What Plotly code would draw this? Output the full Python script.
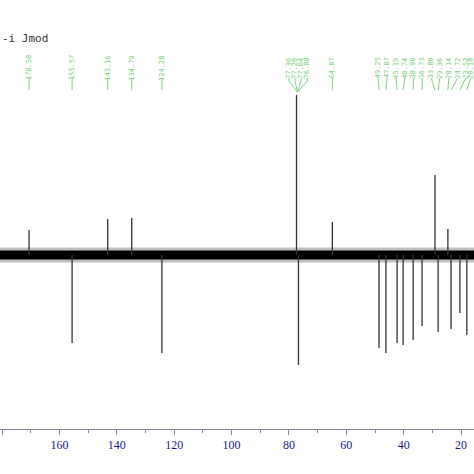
import plotly.graph_objects as go

# peaks: ppm and intensity (pixel units above baseline)
peak_ppm = [170.58, 155.57, 143.16, 134.79, 124.28, 77.36, 76.68, 64.87,
            48.6, 46.2, 42.3, 40.2, 36.7, 33.6, 29.1, 28.0, 24.6, 23.5, 20.4, 18.0]
peak_int = [25, -88, 36, 37, -98, 160, -110, 33,
            -93, -98, -88, -90, -85, -71, 80, -77, 26, -74, -58, -80]
label_text = ["170.58", "155.57", "143.16", "134.79", "124.28",
              "77.36", "77.20", "77.04", "76.88", "64.87"]
label_ppm = [170.58, 155.57, 143.16, 134.79, 124.28, 77.36, 77.20, 77.04, 76.88, 64.87]
label_x_ppm = [170.58, 155.57, 143.16, 134.79, 124.28, 80.0, 77.9, 75.8, 73.6, 64.87]
right_labels = ["49.25", "47.07", "43.19", "40.74", "38.96", "36.73",
                "33.80", "29.36", "28.14", "24.72", "23.52", "20.18"]
right_label_x = [48.9, 45.8, 42.7, 39.6, 36.6, 33.5, 30.4, 27.4, 24.3, 21.2, 18.4, 16.6]
right_peak_x = [48.6, 46.2, 42.3, 40.2, 36.7, 33.6, 29.1, 28.0, 24.6, 23.5, 20.4, 18.0]
xtick_vals = [180, 160, 140, 120, 100, 80, 60, 40, 20]

fig = go.Figure()
fig.add_trace(go.Scatter(x=[185, 10], y=[0, 0], mode="lines",
                         line=dict(color="rgba(0,0,0,0.25)", width=15), hoverinfo="skip"))
fig.add_trace(go.Scatter(x=[185, 10], y=[0, 0], mode="lines",
                         line=dict(color="black", width=9), hoverinfo="skip"))
xs, ys = [], []
for p, v in zip(peak_ppm, peak_int):
    xs += [p, p, None]; ys += [0, v, None]
fig.add_trace(go.Scatter(x=xs, y=ys, mode="lines",
                         line=dict(color="#333333", width=1.3), hoverinfo="skip"))

green = "#7fcf7f"
lx, ly = [], []
for t, xp, pp in zip(label_text, label_x_ppm, label_ppm):
    fig.add_annotation(x=xp, y=187, text=t, textangle=-90, showarrow=False,
                       font=dict(size=7, color=green, family="DejaVu Sans Mono"))
    if abs(xp - pp) < 0.01:
        lx += [xp, xp, None]; ly += [177, 165, None]
    else:
        lx += [xp, xp, 77.0, None]; ly += [177, 174, 163, None]
for t, xp, pp in zip(right_labels, right_label_x, right_peak_x):
    fig.add_annotation(x=xp, y=187, text=t, textangle=-90, showarrow=False,
                       font=dict(size=7, color=green, family="DejaVu Sans Mono"))
    lx += [xp, pp, None]; ly += [177, 165, None]
fig.add_trace(go.Scatter(x=lx, y=ly, mode="lines", line=dict(color=green, width=1),
                         hoverinfo="skip"))

fig.add_annotation(x=0, xref="paper", y=217, yref="y", xanchor="left", text="-i Jmod",
                   showarrow=False, font=dict(size=11, color="#333", family="DejaVu Sans Mono"))

fig.update_layout(width=474, height=474, margin=dict(l=0, r=0, t=0, b=45),
                  plot_bgcolor="white", paper_bgcolor="white", showlegend=False,
                  xaxis=dict(range=[180.7, 15.5], tickvals=xtick_vals, showgrid=False,
                             zeroline=False, showline=True, linecolor="#8888aa",
                             ticks="outside", ticklen=5, tickcolor="#8888aa",
                             minor=dict(dtick=10, ticks="outside", ticklen=3, tickcolor="#8888aa"),
                             tickfont=dict(size=12, color="#1a1a8c", family="Arial Black")),
                  yaxis=dict(range=[-174, 255], visible=False))
fig.write_html("out.html", config={"displayModeBar": False, "staticPlot": True})
with open("out.html", encoding="utf-8") as f:
    html = f.read()
html = html.replace("<head>", "<head><style>html,body{margin:0;padding:0;overflow:hidden}</style>", 1)
with open("out.html", "w", encoding="utf-8") as f:
    f.write(html)
